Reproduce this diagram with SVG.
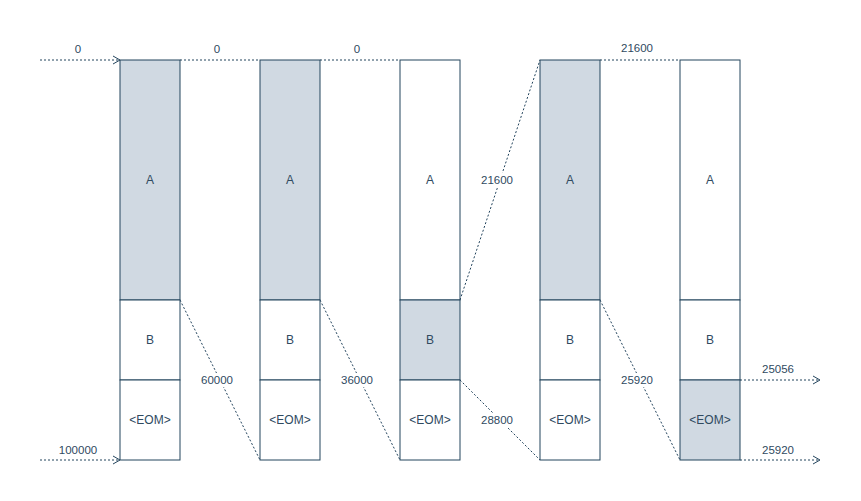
<svg xmlns="http://www.w3.org/2000/svg" width="861" height="501" viewBox="0 0 861 501">
<defs>
<style>
.box{stroke:#23445d;stroke-width:1}
.f{fill:#d0d9e2}
.w{fill:#ffffff}
.t{font-family:"Liberation Sans",Arial,sans-serif;font-size:12px;fill:#2f4a5f;text-anchor:middle;dominant-baseline:central}
.l{font-size:11.5px}
.c{fill:none;stroke:#23445d;stroke-width:1;stroke-dasharray:2 2}
.lb{fill:#ffffff}
</style>
<marker id="arr" markerWidth="10" markerHeight="10" refX="8" refY="5" orient="auto" markerUnits="userSpaceOnUse">
<path d="M1,1 L8,5 L1,9" fill="none" stroke="#23445d" stroke-width="1"/>
</marker>
</defs>
<rect width="861" height="501" fill="#ffffff"/>
<g id="connectors">
<line class="c" x1="40" y1="60" x2="120" y2="60" marker-end="url(#arr)"/>
<line class="c" x1="40" y1="460" x2="120" y2="460" marker-end="url(#arr)"/>
<line class="c" x1="180" y1="60" x2="260" y2="60"/>
<line class="c" x1="320" y1="60" x2="400" y2="60"/>
<line class="c" x1="600" y1="60" x2="680" y2="60"/>
<line class="c" x1="180" y1="300" x2="260" y2="460"/>
<line class="c" x1="320" y1="300" x2="400" y2="460"/>
<line class="c" x1="460" y1="300" x2="540" y2="60"/>
<line class="c" x1="460" y1="380" x2="540" y2="460"/>
<line class="c" x1="600" y1="300" x2="680" y2="460"/>
<line class="c" x1="740" y1="380" x2="820" y2="380" marker-end="url(#arr)"/>
<line class="c" x1="740" y1="460" x2="820" y2="460" marker-end="url(#arr)"/>
<rect class="lb" x="195" y="373" width="44" height="14"/>
<rect class="lb" x="335" y="373" width="44" height="14"/>
<rect class="lb" x="475" y="173" width="44" height="14"/>
<rect class="lb" x="475" y="413" width="44" height="14"/>
<rect class="lb" x="615" y="373" width="44" height="14"/>
<text class="t l" x="78" y="49">0</text>
<text class="t l" x="78" y="450">100000</text>
<text class="t l" x="217" y="49">0</text>
<text class="t l" x="357" y="49">0</text>
<text class="t l" x="637" y="48">21600</text>
<text class="t l" x="217" y="380">60000</text>
<text class="t l" x="357" y="380">36000</text>
<text class="t l" x="497" y="180">21600</text>
<text class="t l" x="497" y="420">28800</text>
<text class="t l" x="637" y="380">25920</text>
<text class="t l" x="778" y="369">25056</text>
<text class="t l" x="778" y="450">25920</text>
</g>
<g id="col1">
<rect class="box f" x="120" y="60" width="60" height="240"/><text class="t" x="150" y="180">A</text>
<rect class="box w" x="120" y="300" width="60" height="80"/><text class="t" x="150" y="340">B</text>
<rect class="box w" x="120" y="380" width="60" height="80"/><text class="t" x="150" y="420">&lt;EOM&gt;</text>
</g>
<g id="col2">
<rect class="box f" x="260" y="60" width="60" height="240"/><text class="t" x="290" y="180">A</text>
<rect class="box w" x="260" y="300" width="60" height="80"/><text class="t" x="290" y="340">B</text>
<rect class="box w" x="260" y="380" width="60" height="80"/><text class="t" x="290" y="420">&lt;EOM&gt;</text>
</g>
<g id="col3">
<rect class="box w" x="400" y="60" width="60" height="240"/><text class="t" x="430" y="180">A</text>
<rect class="box f" x="400" y="300" width="60" height="80"/><text class="t" x="430" y="340">B</text>
<rect class="box w" x="400" y="380" width="60" height="80"/><text class="t" x="430" y="420">&lt;EOM&gt;</text>
</g>
<g id="col4">
<rect class="box f" x="540" y="60" width="60" height="240"/><text class="t" x="570" y="180">A</text>
<rect class="box w" x="540" y="300" width="60" height="80"/><text class="t" x="570" y="340">B</text>
<rect class="box w" x="540" y="380" width="60" height="80"/><text class="t" x="570" y="420">&lt;EOM&gt;</text>
</g>
<g id="col5">
<rect class="box w" x="680" y="60" width="60" height="240"/><text class="t" x="710" y="180">A</text>
<rect class="box w" x="680" y="300" width="60" height="80"/><text class="t" x="710" y="340">B</text>
<rect class="box f" x="680" y="380" width="60" height="80"/><text class="t" x="710" y="420">&lt;EOM&gt;</text>
</g>
</svg>
